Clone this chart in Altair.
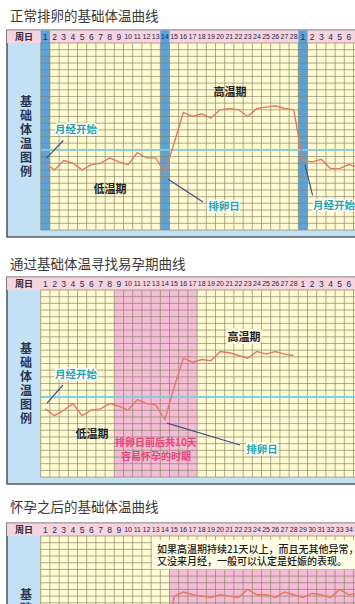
import altair as alt
import pandas as pd

# ---------------- data ----------------
titles = ["正常排卵的基础体温曲线", "通过基础体温寻找易孕期曲线", "怀孕之后的基础体温曲线"]
week_label = "周日"
side_label = "基础体温图例"
header_1 = [str(i) for i in range(1, 29)] + [str(i) for i in range(1, 8)]
header_2 = [str(i) for i in range(1, 29)] + [str(i) for i in range(1, 8)]
header_3 = [str(i) for i in range(1, 36)]

days_1 = list(range(1, 36))
temps_1 = [36.60, 36.55, 36.62, 36.60, 36.55, 36.59, 36.60, 36.64, 36.61, 36.59,
           36.68, 36.64, 36.64, 36.53, 36.75, 36.98, 36.95, 36.97, 36.94, 37.00,
           37.01, 37.00, 36.95, 37.01, 37.02, 37.03, 37.01, 37.00, 36.62, 36.61,
           36.63, 36.56, 36.56, 36.59, 36.57]
days_2 = list(range(1, 29))
temps_2 = [36.61, 36.56, 36.60, 36.65, 36.56, 36.60, 36.61, 36.65, 36.63, 36.60,
           36.68, 36.65, 36.64, 36.53, 36.77, 36.99, 36.96, 36.98, 36.97, 37.04,
           37.03, 37.01, 36.99, 37.04, 37.02, 37.04, 37.02, 37.01]
days_3 = list(range(14, 36))
temps_3 = [36.60, 37.05, 37.08, 37.06, 37.05, 37.04, 37.06, 37.05, 37.04, 37.10,
           37.06, 37.06, 37.04, 37.08, 37.06, 37.04, 37.07, 37.06, 37.04, 37.10,
           37.06, 37.07]
coverline = 36.70

ann_menses = "月经开始"
ann_ovu = "排卵日"
ann_low = "低温期"
ann_high = "高温期"
ann_fertile = ["排卵日前后共10天", "容易怀孕的时期"]
ann_preg = ["如果高温期持续21天以上，而且无其他异常，", "又没来月经，一般可以认定是妊娠的表现。"]

# ---------------- geometry / style ----------------
W = 355
COL_PX = 9.2
GRID_X0_PX = 40.7
PX_PER_C = 133.6
T_TOP, T_BOT, ROW_T, N_ROWS, N_COLS = 37.5, 36.1, 0.05, 28, 35
HEAD_TOP = 37.595
BOX_BOT = 36.048
BOX_L = -3.663
X_DOM = [-GRID_X0_PX / COL_PX, (W - GRID_X0_PX) / COL_PX]

CJK = "Noto Sans CJK SC"
LAT = "Liberation Sans"
C_BLUE_BG = "#c3e1f4"
C_PINK_HEAD = "#f7d4de"
C_YELLOW = "#fffbd2"
C_GRID = "#8a8466"
C_BLUECOL = "#5aa2d8"
C_PINKBAND = "#f4bcd6"
C_COVER = "#7dd0e2"
C_TEMP = "#e27b60"
C_TEAL = "#2aa3a8"
C_POINT = "#41508a"


def make_panel(title, h, gtop, header, specials, days, temps, texts, pointers):
    ydom = [T_TOP - (h - gtop) / PX_PER_C, T_TOP + gtop / PX_PER_C]

    def X(f):
        return alt.X(f, type="quantitative", scale=alt.Scale(domain=X_DOM, nice=False, zero=False), axis=None)

    def Y(f):
        return alt.Y(f, type="quantitative", scale=alt.Scale(domain=ydom, nice=False, zero=False), axis=None)

    def rect(rows, **kw):
        return alt.Chart(pd.DataFrame(rows)).mark_rect(clip=True, **kw).encode(
            x=X("x"), x2="x2", y=Y("y"), y2="y2")

    def rules(rows, **kw):
        return alt.Chart(pd.DataFrame(rows)).mark_rule(clip=True, **kw).encode(
            x=X("x"), x2="x2", y=Y("y"), y2="y2")

    def text(rows, **kw):
        return alt.Chart(pd.DataFrame(rows)).mark_text(clip=True, **kw).encode(
            x=X("x"), y=Y("y"), text="t:N")

    layers = []
    layers.append(rect([{"x": BOX_L, "x2": 40, "y": BOX_BOT, "y2": HEAD_TOP}],
                       fill=C_BLUE_BG, stroke="#5b5b5b", strokeWidth=1.6))
    layers.append(rect([{"x": BOX_L, "x2": 40, "y": T_TOP, "y2": HEAD_TOP}], fill=C_PINK_HEAD))
    layers.append(rect([{"x": 0, "x2": 40, "y": T_BOT, "y2": T_TOP}], fill=C_YELLOW))
    for rows, col in specials:
        layers.append(rect(rows, fill=col))
    grid = [{"x": c, "x2": c, "y": T_BOT, "y2": T_TOP} for c in range(0, N_COLS + 1)]
    grid += [{"x": 0, "x2": N_COLS, "y": T_BOT + r * ROW_T, "y2": T_BOT + r * ROW_T} for r in range(0, N_ROWS + 1)]
    layers.append(rules(grid, color=C_GRID, strokeWidth=0.75, opacity=0.9))
    for rows, col in texts.get("boxes", []):
        layers.append(rect(rows, fill=col))
    layers.append(rules([{"x": 0, "x2": N_COLS, "y": coverline, "y2": coverline}],
                        color=C_COVER, strokeWidth=1.6))
    df_line = pd.DataFrame({"day": days, "temp": temps})
    df_line["xc"] = df_line["day"] - 0.5
    layers.append(alt.Chart(df_line).mark_line(clip=True, color=C_TEMP, strokeWidth=1.4).encode(
        x=X("xc"), y=Y("temp")))
    if pointers:
        layers.append(rules(pointers, color=C_POINT, strokeWidth=1.2))
    for rows, kw in texts.get("items", []):
        layers.append(text(rows, **kw))
    # header labels
    hdr = [{"x": i + 0.5, "y": (T_TOP + HEAD_TOP) / 2, "t": lab, "fs": 8.5 if len(lab) == 1 else 7.0}
           for i, lab in enumerate(header)]
    layers.append(alt.Chart(pd.DataFrame(hdr)).mark_text(clip=True, font=LAT, color="#1f2a55",
                                                        baseline="middle").encode(
        x=X("x"), y=Y("y"), text="t:N", size=alt.Size("fs:Q", scale=None)))
    layers.append(text([{"x": -1.815, "y": (T_TOP + HEAD_TOP) / 2, "t": week_label}],
                       font=CJK, fontSize=9, fontWeight="bold", color="#2a2a40", baseline="middle"))
    layers.append(text([{"x": -1.6, "y": 37.06, "t": "\n".join(side_label)}],
                       font=CJK, fontSize=12, fontWeight="bold", color="#2a3550",
                       baseline="middle", lineBreak="\n", lineHeight=14))
    layers.append(text([{"x": -3.337, "y": T_TOP + (gtop - title[1]) / PX_PER_C, "t": title[0]}],
                       font=CJK, fontSize=13.5, color="#3a3a3a", align="left", baseline="middle"))
    return alt.layer(*layers).properties(width=W, height=h)


teal_kw = dict(font=CJK, fontSize=10.5, fontWeight="bold", color=C_TEAL, baseline="middle")
halo_kw = dict(font=CJK, fontSize=10.5, fontWeight="bold", color="white", stroke="white",
               strokeWidth=3, strokeJoin="round", baseline="middle")
dark_kw = dict(font=CJK, fontSize=11, fontWeight="bold", color="#222222", baseline="middle")

# ---- panel 1 ----
p1_specials = [([{"x": 0, "x2": 1, "y": T_BOT, "y2": HEAD_TOP},
                 {"x": 13, "x2": 14, "y": T_BOT, "y2": HEAD_TOP},
                 {"x": 28, "x2": 29, "y": T_BOT, "y2": HEAD_TOP}], C_BLUECOL)]
p1_m1 = [{"x": 3.84, "y": 36.85, "t": ann_menses}]
p1_ov = [{"x": 19.92, "y": 36.27, "t": ann_ovu}]
p1_m2 = [{"x": 29.6, "y": 36.28, "t": ann_menses}]
p1_texts = {"items": [
    (p1_m1, halo_kw), (p1_m1, teal_kw),
    (p1_ov, halo_kw), (p1_ov, teal_kw),
    (p1_m2, dict(halo_kw, align="left")), (p1_m2, dict(teal_kw, align="left")),
    ([{"x": 7.53, "y": 36.40, "t": ann_low}], dark_kw),
    ([{"x": 20.58, "y": 37.126, "t": ann_high}], dark_kw),
]}
p1_pointers = [
    {"x": 0.65, "x2": 2.46, "y": 36.64, "y2": 36.77},
    {"x": 13.86, "x2": 17.64, "y": 36.48, "y2": 36.31},
    {"x": 28.73, "x2": 29.55, "y": 36.59, "y2": 36.36},
]
p1 = make_panel((titles[0], 16.7), 250, 43, header_1, p1_specials, days_1, temps_1, p1_texts, p1_pointers)

# ---- panel 2 ----
p2_specials = [([{"x": 8, "x2": 17, "y": T_BOT, "y2": T_TOP}], C_PINKBAND)]
p2_m1 = [{"x": 3.84, "y": 36.864, "t": ann_menses}]
p2_ov = [{"x": 24.05, "y": 36.30, "t": ann_ovu}]
p2_hi = [{"x": 22.1, "y": 37.14, "t": ann_high}]
pink_kw = dict(font=CJK, fontSize=10, fontWeight="bold", color="#e8467c", baseline="middle")
p2_texts = {"items": [
    (p2_m1, halo_kw), (p2_m1, teal_kw),
    (p2_ov, halo_kw), (p2_ov, teal_kw),
    (p2_hi, dict(dark_kw, color="#fffde8", stroke="#fffde8", strokeWidth=4)), (p2_hi, dark_kw),
    ([{"x": 5.58, "y": 36.415, "t": ann_low}], dark_kw),
    ([{"x": 12.53, "y": 36.355, "t": ann_fertile[0]},
      {"x": 12.53, "y": 36.25, "t": ann_fertile[1]}], pink_kw),
]}
p2_pointers = [
    {"x": 0.69, "x2": 2.42, "y": 36.654, "y2": 36.789},
    {"x": 13.73, "x2": 21.66, "y": 36.504, "y2": 36.34},
]
p2 = make_panel((titles[1], 15), 242, 40, header_2, p2_specials, days_2, temps_2, p2_texts, p2_pointers)

# ---- panel 3 ----
p3_specials = [([{"x": 14, "x2": 40, "y": 35.5, "y2": 37.25}], C_PINKBAND)]
p3_texts = {
    "boxes": [([{"x": 12.1, "x2": 40, "y": 37.252, "y2": 37.47}], "#fffde6")],
    "items": [
        ([{"x": 12.64, "y": 37.395, "t": ann_preg[0]},
          {"x": 12.64, "y": 37.305, "t": ann_preg[1]}],
         dict(font=CJK, fontSize=10, fontWeight=500, color="#1a1a1a", align="left", baseline="middle")),
    ]}
p3 = make_panel((titles[2], 16), 112, 44, header_3, p3_specials, days_3, temps_3, p3_texts, [])

chart = alt.vconcat(p1, p2, p3, spacing=0).properties(
    padding=0, background="white").configure_view(stroke=None)

chart.save("out.html", embed_options={"renderer": "svg", "actions": False})
